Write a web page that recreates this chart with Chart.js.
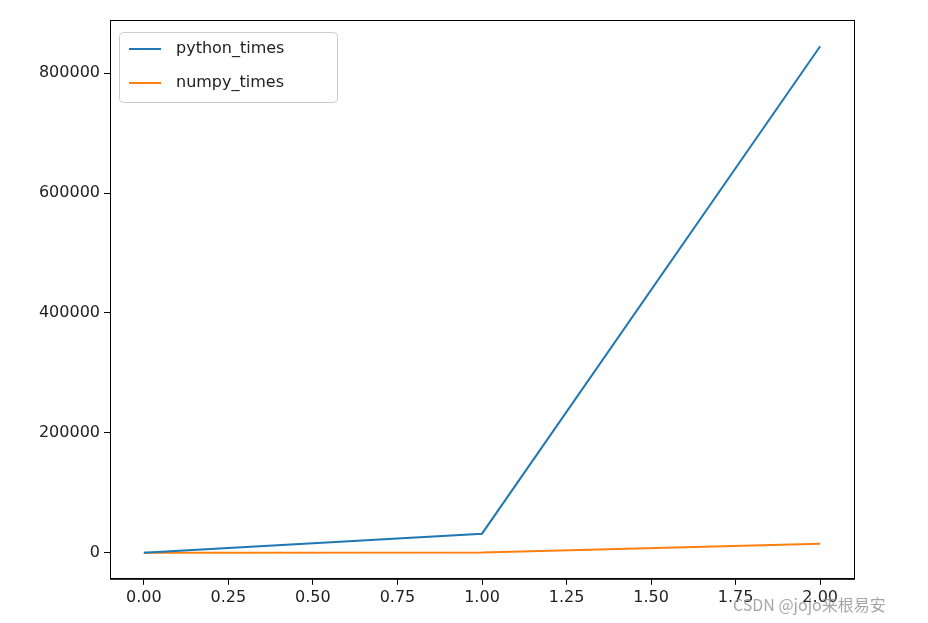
<!DOCTYPE html><html><head><script src="https://cdn.jsdelivr.net/npm/chart.js@4"></script>
<style>body{margin:0;background:#fff}#w{position:relative;width:928px;height:623px}
#wm{position:absolute;left:733px;top:592px;font:16px "Noto Sans CJK SC",sans-serif;color:rgba(150,150,150,0.85)}</style></head>
<body><div id="w"><canvas id="c" width="928" height="623"></canvas><div id="wm">CSDN @jojo来根易安</div></div>
<script>
const xs=[0,1,2];
const pythonTimes=[0,31800,845000];
const numpyTimes=[0,200,15000];
const xTicks=[0,0.25,0.5,0.75,1,1.25,1.5,1.75,2];
const yTicks=[0,200000,400000,600000,800000];
const pts=a=>xs.map((x,i)=>({x,y:a[i]}));
const border={id:'b',afterDraw(c){const a=c.chartArea,g=c.ctx;g.save();g.strokeStyle='#000';g.lineWidth=1;g.strokeRect(a.left+.5,a.top+.5,a.right-a.left,a.bottom-a.top);g.restore();}};
const grid={display:true,drawOnChartArea:false,drawTicks:true,tickLength:6,tickColor:'#000',color:'#000'};
new Chart(document.getElementById('c'),{type:'line',
data:{datasets:[{label:'python_times',data:pts(pythonTimes),borderColor:'#1f77b4',borderWidth:2,pointRadius:0,tension:0},
{label:'numpy_times',data:pts(numpyTimes),borderColor:'#ff7f0e',borderWidth:2,pointRadius:0,tension:0}]},
options:{responsive:false,animation:false,layout:{padding:{left:0,right:74,top:20,bottom:13}},
plugins:{legend:{display:false},tooltip:{enabled:false}},
scales:{x:{type:'linear',min:-0.1,max:2.1,afterBuildTicks:s=>{s.ticks=xTicks.map(v=>({value:v}))},
ticks:{color:'#222',font:{size:16,family:'DejaVu Sans'},callback:v=>v.toFixed(2),maxRotation:0,padding:3},
grid:grid,border:{color:'#000'}},
y:{min:-43500,max:888700,afterBuildTicks:s=>{s.ticks=yTicks.map(v=>({value:v}))},
ticks:{color:'#222',font:{size:16,family:'DejaVu Sans'},callback:v=>String(v),padding:4},
grid:grid,border:{color:'#000'},afterFit:s=>{s.width=110}}}},
plugins:[border,{id:'lg',afterDraw(c){const g=c.ctx,a=c.chartArea;const x=a.left+9,y=a.top+12;
g.save();g.fillStyle='rgba(255,255,255,0.8)';g.strokeStyle='#ccc';g.lineWidth=1;
g.beginPath();g.roundRect(x+.5,y+.5,218,70,4);g.fill();g.stroke();
g.font='16px DejaVu Sans';g.textBaseline='middle';
[['python_times','#1f77b4',17],['numpy_times','#ff7f0e',51]].forEach(([t,col,dy])=>{g.strokeStyle=col;g.lineWidth=2;g.beginPath();g.moveTo(x+10,y+dy);g.lineTo(x+42,y+dy);g.stroke();g.fillStyle='#222';g.fillText(t,x+57,y+dy);});
g.restore();}}]});
</script></body></html>
